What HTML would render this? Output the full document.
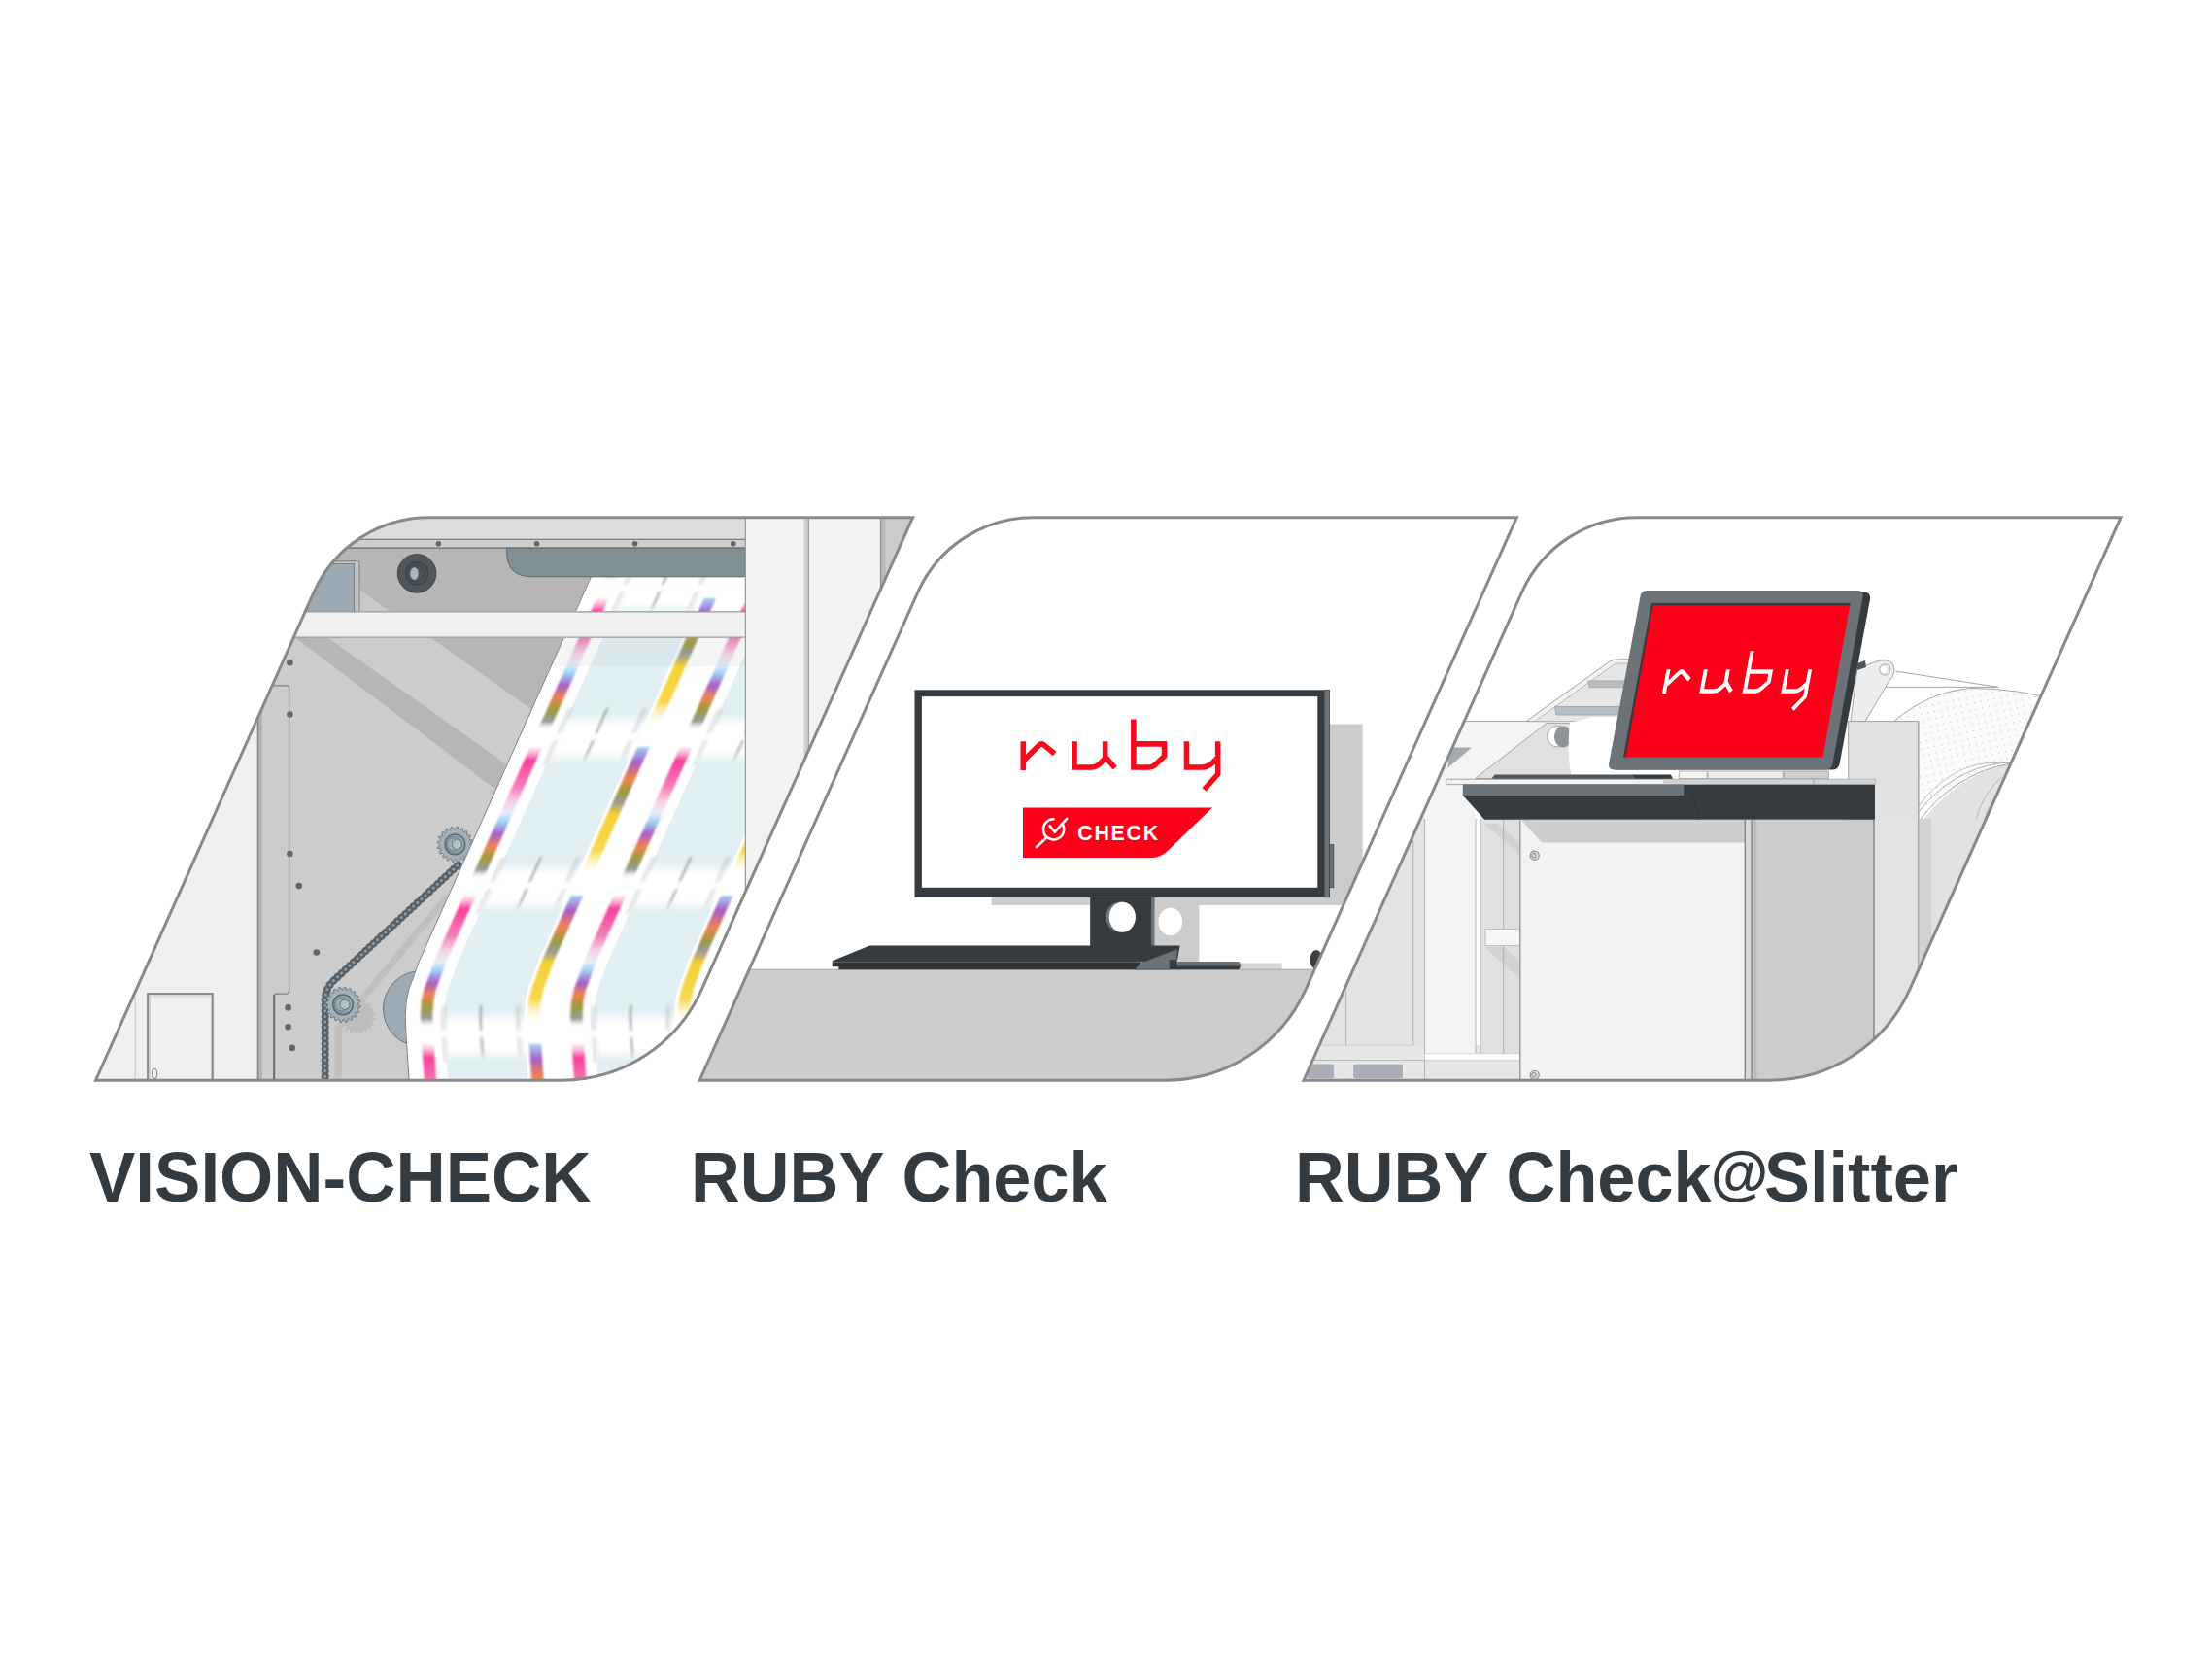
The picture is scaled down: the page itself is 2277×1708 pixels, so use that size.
<!DOCTYPE html>
<html><head><meta charset="utf-8">
<style>
html,body{margin:0;padding:0;background:#fff;width:2277px;height:1708px;overflow:hidden}
svg{display:block;position:absolute;left:0;top:0}
.lbl{position:absolute;font-family:"Liberation Sans",sans-serif;font-weight:bold;color:#343b40;font-size:72px;line-height:1;white-space:nowrap;transform-origin:0 0}
</style></head><body>
<svg width="2277" height="1708" viewBox="0 0 2277 1708">
<defs>
<clipPath id="c1"><path d="M323.14,609.65 A130.0,130.0 0 0 1 441.82,532.70 L939.60,532.70 L722.37,1018.68 A158.0,158.0 0 0 1 578.12,1112.20 L98.50,1112.20 Z"/></clipPath>
<clipPath id="c2"><path d="M944.84,609.65 A130.0,130.0 0 0 1 1063.52,532.70 L1561.30,532.70 L1344.07,1018.68 A158.0,158.0 0 0 1 1199.82,1112.20 L720.20,1112.20 Z"/></clipPath>
<clipPath id="c3"><path d="M1566.64,609.65 A130.0,130.0 0 0 1 1685.32,532.70 L2183.10,532.70 L1965.87,1018.68 A158.0,158.0 0 0 1 1821.62,1112.20 L1342.00,1112.20 Z"/></clipPath>

<linearGradient id="gBlue" x1="0" y1="0" x2="0" y2="1">
<stop offset="0" stop-color="#e3f0f3" stop-opacity="0"/>
<stop offset="0.1" stop-color="#e3f0f3"/>
<stop offset="0.9" stop-color="#e3f0f3"/>
<stop offset="1" stop-color="#e3f0f3" stop-opacity="0"/>
</linearGradient>
<linearGradient id="gStripP" x1="0" y1="0" x2="0" y2="1">
<stop offset="0" stop-color="#f6a0c8" stop-opacity="0.2"/>
<stop offset="0.1" stop-color="#f6409b"/>
<stop offset="0.3" stop-color="#f27db6"/>
<stop offset="0.42" stop-color="#f8d2e4"/>
<stop offset="0.5" stop-color="#e4eef8"/>
<stop offset="0.57" stop-color="#9fd0f6"/>
<stop offset="0.66" stop-color="#a85ec8"/>
<stop offset="0.75" stop-color="#f0824f"/>
<stop offset="0.84" stop-color="#9e9b3c"/>
<stop offset="0.93" stop-color="#9a9a9a"/>
<stop offset="1" stop-color="#ffffff" stop-opacity="0"/>
</linearGradient>
<linearGradient id="gStripY" x1="0" y1="0" x2="0" y2="1">
<stop offset="0" stop-color="#a4d3f6"/>
<stop offset="0.12" stop-color="#a85ec8"/>
<stop offset="0.25" stop-color="#f0824f"/>
<stop offset="0.36" stop-color="#9e9b3c"/>
<stop offset="0.44" stop-color="#9a9a9a"/>
<stop offset="0.53" stop-color="#f4d034"/>
<stop offset="0.82" stop-color="#f6d850"/>
<stop offset="1" stop-color="#fff8d0" stop-opacity="0"/>
</linearGradient>
<filter id="bl1" x="-50%" y="-10%" width="200%" height="120%"><feGaussianBlur stdDeviation="0.9"/></filter>
<filter id="bl2" x="-400%" y="-30%" width="900%" height="160%"><feGaussianBlur stdDeviation="1.5"/></filter>



<pattern id="dots" x="0" y="0" width="7" height="7" patternUnits="userSpaceOnUse" patternTransform="rotate(-12)">
<circle cx="3.5" cy="3.5" r="0.7" fill="#c8c8c8"/>
</pattern>
<linearGradient id="gDoor" x1="0" y1="0" x2="1" y2="1">
<stop offset="0" stop-color="#f0f0f0"/><stop offset="1" stop-color="#f3f3f3"/>
</linearGradient>

</defs>
<g clip-path="url(#c1)">
<rect x="90" y="520" width="860" height="600" fill="#cccccc"/>
<rect x="90" y="564" width="680" height="66" fill="#b6b6b6"/>
<path d="M369.5,606.5 L402,630 L369.5,630Z" fill="#c9c9c9"/>
<rect x="90" y="520" width="680" height="35.4" fill="#dcdcdc"/>
<rect x="90" y="555.4" width="680" height="8.6" fill="#cecece"/>
<line x1="90" y1="555.4" x2="767" y2="555.4" stroke="#7d7d7d" stroke-width="1.1"/>
<line x1="90" y1="564.2" x2="767" y2="564.2" stroke="#6d6d6d" stroke-width="1.3"/>
<circle cx="451.4" cy="559.8" r="2.8" fill="#5f676c"/>
<circle cx="552.6" cy="559.8" r="2.8" fill="#5f676c"/>
<circle cx="653.6" cy="559.8" r="2.8" fill="#5f676c"/>
<circle cx="754.8" cy="559.8" r="2.8" fill="#5f676c"/>
<rect x="300" y="577.8" width="70" height="52.2" fill="#c6c6c6" stroke="#7a7a7a" stroke-width="1" rx="1.5"/>
<rect x="300" y="580.5" width="64.6" height="49.5" fill="#9daab3" stroke="#707b82" stroke-width="0.9"/>
<circle cx="429.1" cy="590.4" r="19.8" fill="#50575c" stroke="#40464a" stroke-width="1"/>
<circle cx="429.1" cy="590.4" r="11.5" fill="#4b5257" stroke="#3a4044" stroke-width="1.2"/>
<circle cx="428.2" cy="590.4" r="8.5" fill="none" stroke="#3d4347" stroke-width="0.9"/>
<ellipse cx="426.5" cy="590.6" rx="4.3" ry="6.3" fill="#a8b6be"/>
<path d="M303.9,656.2 L336.8,656.2 L521,786.43 L511,813.39 Z" fill="#b6b6b6"/>
<path d="M443,656.2 L580.1,656.2 L547.8,730.8 Z" fill="#b6b6b6"/>
<rect x="90" y="705.8" width="175.5" height="420" fill="#f0f0f0"/>
<line x1="139.2" y1="1027" x2="139.2" y2="1113" stroke="#c4c4c4" stroke-width="1"/>
<path d="M152.2,1113 L152.2,1023.2 L218.7,1023.2 L218.7,1113" fill="#f0f0f0" stroke="#8a8a8a" stroke-width="2.2"/>
<path d="M154.5,1113 L154.5,1026 L216.5,1026" fill="none" stroke="#d0d0d0" stroke-width="1"/>
<ellipse cx="159.1" cy="1105.5" rx="2.6" ry="5" fill="none" stroke="#8a8a8a" stroke-width="1.2"/>
<path d="M265.5,1113 L265.5,705.8 L297.6,705.8 L297.6,1020 Q297.6,1023.2 294.4,1023.2 L284.9,1023.2 Q281.7,1023.2 281.7,1026.4 L281.7,1113Z" fill="#cccccc" stroke="#808080" stroke-width="1.2"/>
<rect x="265.5" y="706.4" width="4.5" height="407" fill="#b4b4b4"/>
<line x1="265.6" y1="705.8" x2="265.6" y2="1113" stroke="#858585" stroke-width="1.6"/>
<line x1="282.3" y1="1024" x2="282.3" y2="1113" stroke="#6e6e6e" stroke-width="1.8"/>
<circle cx="298.4" cy="682.3" r="3.3" fill="#5f676c"/>
<circle cx="298.4" cy="735.6" r="3.3" fill="#5f676c"/>
<circle cx="298.4" cy="879" r="3.3" fill="#5f676c"/>
<circle cx="307.7" cy="912.1" r="3.3" fill="#5f676c"/>
<circle cx="325.8" cy="980.5" r="3.3" fill="#5f676c"/>
<circle cx="296.6" cy="1037.4" r="3.3" fill="#5f676c"/>
<circle cx="296.6" cy="1057.2" r="3.3" fill="#5f676c"/>
<circle cx="300.8" cy="1078.9" r="3.3" fill="#5f676c"/>
<path d="M348.2,1120 L348.2,1058 L460,923.4" fill="none" stroke="#bfbfbf" stroke-width="7"/>
<path d="M384.1,1046.9 L386.64,1048.33 L386.48,1049.75 L383.67,1050.54 L383.34,1051.72 L385.31,1053.86 L384.72,1055.16 L381.8,1055.05 L381.12,1056.07 L382.34,1058.72 L381.37,1059.77 L378.63,1058.76 L377.67,1059.52 L378.01,1062.42 L376.76,1063.12 L374.47,1061.31 L373.32,1061.74 L372.75,1064.6 L371.35,1064.88 L369.72,1062.45 L368.5,1062.5 L367.07,1065.04 L365.65,1064.88 L364.86,1062.07 L363.68,1061.74 L361.54,1063.71 L360.24,1063.12 L360.35,1060.2 L359.33,1059.52 L356.68,1060.74 L355.63,1059.77 L356.64,1057.03 L355.88,1056.07 L352.98,1056.41 L352.28,1055.16 L354.09,1052.87 L353.66,1051.72 L350.8,1051.15 L350.52,1049.75 L352.95,1048.12 L352.9,1046.9 L350.36,1045.47 L350.52,1044.05 L353.33,1043.26 L353.66,1042.08 L351.69,1039.94 L352.28,1038.64 L355.2,1038.75 L355.88,1037.73 L354.66,1035.08 L355.63,1034.03 L358.37,1035.04 L359.33,1034.28 L358.99,1031.38 L360.24,1030.68 L362.53,1032.49 L363.68,1032.06 L364.25,1029.2 L365.65,1028.92 L367.28,1031.35 L368.5,1031.3 L369.93,1028.76 L371.35,1028.92 L372.14,1031.73 L373.32,1032.06 L375.46,1030.09 L376.76,1030.68 L376.65,1033.6 L377.67,1034.28 L380.32,1033.06 L381.37,1034.03 L380.36,1036.77 L381.12,1037.73 L384.02,1037.39 L384.72,1038.64 L382.91,1040.93 L383.34,1042.08 L386.2,1042.65 L386.48,1044.05 L384.05,1045.68Z" fill="#bdbdbd" stroke="none" stroke-width="0"/>
<circle cx="433.5" cy="1038.6" r="39" fill="#9eabb4" stroke="#68737a" stroke-width="1"/>
<path d="M334.7,1125 L334.7,1030 Q334.7,1018 343,1010 L474.5,887.8" fill="none" stroke="#56616a" stroke-width="5.5" stroke-linejoin="round"/>
<path d="M334.7,1125 L334.7,1030 Q334.7,1018 343,1010 L474.5,887.8" fill="none" stroke="#56616a" stroke-width="8" stroke-dasharray="0.01 5.6" stroke-linecap="round"/>
<path d="M334.7,1125 L334.7,1030 Q334.7,1018 343,1010 L474.5,887.8" fill="none" stroke="#8f9aa1" stroke-width="3" stroke-dasharray="0.01 5.6" stroke-linecap="round"/>
<path d="M368.6,1034.3 L371.14,1035.73 L370.98,1037.15 L368.17,1037.94 L367.84,1039.12 L369.81,1041.26 L369.22,1042.56 L366.3,1042.45 L365.62,1043.47 L366.84,1046.12 L365.87,1047.17 L363.13,1046.16 L362.17,1046.92 L362.51,1049.82 L361.26,1050.52 L358.97,1048.71 L357.82,1049.14 L357.25,1052 L355.85,1052.28 L354.22,1049.85 L353,1049.9 L351.57,1052.44 L350.15,1052.28 L349.36,1049.47 L348.18,1049.14 L346.04,1051.11 L344.74,1050.52 L344.85,1047.6 L343.83,1046.92 L341.18,1048.14 L340.13,1047.17 L341.14,1044.43 L340.38,1043.47 L337.48,1043.81 L336.78,1042.56 L338.59,1040.27 L338.16,1039.12 L335.3,1038.55 L335.02,1037.15 L337.45,1035.52 L337.4,1034.3 L334.86,1032.87 L335.02,1031.45 L337.83,1030.66 L338.16,1029.48 L336.19,1027.34 L336.78,1026.04 L339.7,1026.15 L340.38,1025.13 L339.16,1022.48 L340.13,1021.43 L342.87,1022.44 L343.83,1021.68 L343.49,1018.78 L344.74,1018.08 L347.03,1019.89 L348.18,1019.46 L348.75,1016.6 L350.15,1016.32 L351.78,1018.75 L353,1018.7 L354.43,1016.16 L355.85,1016.32 L356.64,1019.13 L357.82,1019.46 L359.96,1017.49 L361.26,1018.08 L361.15,1021 L362.17,1021.68 L364.82,1020.46 L365.87,1021.43 L364.86,1024.17 L365.62,1025.13 L368.52,1024.79 L369.22,1026.04 L367.41,1028.33 L367.84,1029.48 L370.7,1030.05 L370.98,1031.45 L368.55,1033.08Z" fill="#a3b0b8" stroke="#66727a" stroke-width="0.9"/><circle cx="353" cy="1034.3" r="10.3" fill="#9eabb3" stroke="#5d6870" stroke-width="1.6"/><circle cx="352.2" cy="1034.3" r="8" fill="none" stroke="#6d7880" stroke-width="0.8"/><circle cx="351.5" cy="1034.3" r="6.5" fill="none" stroke="#6d7880" stroke-width="0.8"/><path d="M359.76,1037.05 L355,1039.8 L350.24,1037.05 L350.24,1031.55 L355,1028.8 L359.76,1031.55Z" fill="#b5c2c9" stroke="#5d6870" stroke-width="0.8"/>
<path d="M484,869.3 L486.54,870.73 L486.38,872.15 L483.57,872.94 L483.24,874.12 L485.21,876.26 L484.62,877.56 L481.7,877.45 L481.02,878.47 L482.24,881.12 L481.27,882.17 L478.53,881.16 L477.57,881.92 L477.91,884.82 L476.66,885.52 L474.37,883.71 L473.22,884.14 L472.65,887 L471.25,887.28 L469.62,884.85 L468.4,884.9 L466.97,887.44 L465.55,887.28 L464.76,884.47 L463.58,884.14 L461.44,886.11 L460.14,885.52 L460.25,882.6 L459.23,881.92 L456.58,883.14 L455.53,882.17 L456.54,879.43 L455.78,878.47 L452.88,878.81 L452.18,877.56 L453.99,875.27 L453.56,874.12 L450.7,873.55 L450.42,872.15 L452.85,870.52 L452.8,869.3 L450.26,867.87 L450.42,866.45 L453.23,865.66 L453.56,864.48 L451.59,862.34 L452.18,861.04 L455.1,861.15 L455.78,860.13 L454.56,857.48 L455.53,856.43 L458.27,857.44 L459.23,856.68 L458.89,853.78 L460.14,853.08 L462.43,854.89 L463.58,854.46 L464.15,851.6 L465.55,851.32 L467.18,853.75 L468.4,853.7 L469.83,851.16 L471.25,851.32 L472.04,854.13 L473.22,854.46 L475.36,852.49 L476.66,853.08 L476.55,856 L477.57,856.68 L480.22,855.46 L481.27,856.43 L480.26,859.17 L481.02,860.13 L483.92,859.79 L484.62,861.04 L482.81,863.33 L483.24,864.48 L486.1,865.05 L486.38,866.45 L483.95,868.08Z" fill="#a3b0b8" stroke="#66727a" stroke-width="0.9"/><circle cx="468.4" cy="869.3" r="10.3" fill="#9eabb3" stroke="#5d6870" stroke-width="1.6"/><circle cx="467.6" cy="869.3" r="8" fill="none" stroke="#6d7880" stroke-width="0.8"/><circle cx="466.9" cy="869.3" r="6.5" fill="none" stroke="#6d7880" stroke-width="0.8"/><path d="M475.16,872.05 L470.4,874.8 L465.64,872.05 L465.64,866.55 L470.4,863.8 L475.16,866.55Z" fill="#b5c2c9" stroke="#5d6870" stroke-width="0.8"/>
<defs><g id="webc"><rect x="0" y="560" width="420" height="600" fill="#ffffff"/>
<rect x="40.5" y="314" width="82.5" height="128" fill="url(#gBlue)"/>
<rect x="194.8" y="314" width="82.5" height="128" fill="url(#gBlue)"/>
<rect x="349.1" y="314" width="82.5" height="128" fill="url(#gBlue)"/>
<rect x="16" y="310" width="12.5" height="136" fill="url(#gStripP)" filter="url(#bl1)"/>
<rect x="126.5" y="310" width="12.5" height="130" fill="url(#gStripY)" filter="url(#bl1)"/>
<rect x="38" y="423" width="1.0" height="26" fill="#4a4a4a" fill-opacity="0.45" filter="url(#bl2)"/>
<rect x="38" y="456" width="1.0" height="26" fill="#4a4a4a" fill-opacity="0.45" filter="url(#bl2)"/>
<rect x="41" y="423" width="0.8" height="26" fill="#4a4a4a" fill-opacity="0.3" filter="url(#bl2)"/>
<rect x="41" y="456" width="0.8" height="26" fill="#4a4a4a" fill-opacity="0.3" filter="url(#bl2)"/>
<rect x="77" y="423" width="1.4" height="26" fill="#4a4a4a" fill-opacity="0.8" filter="url(#bl2)"/>
<rect x="77" y="456" width="1.4" height="26" fill="#4a4a4a" fill-opacity="0.8" filter="url(#bl2)"/>
<rect x="115" y="423" width="1.0" height="26" fill="#4a4a4a" fill-opacity="0.45" filter="url(#bl2)"/>
<rect x="115" y="456" width="1.0" height="26" fill="#4a4a4a" fill-opacity="0.45" filter="url(#bl2)"/>
<rect x="118" y="423" width="0.8" height="26" fill="#4a4a4a" fill-opacity="0.3" filter="url(#bl2)"/>
<rect x="118" y="456" width="0.8" height="26" fill="#4a4a4a" fill-opacity="0.3" filter="url(#bl2)"/>
<rect x="170.3" y="310" width="12.5" height="136" fill="url(#gStripP)" filter="url(#bl1)"/>
<rect x="280.8" y="310" width="12.5" height="130" fill="url(#gStripY)" filter="url(#bl1)"/>
<rect x="192.3" y="423" width="1.0" height="26" fill="#4a4a4a" fill-opacity="0.45" filter="url(#bl2)"/>
<rect x="192.3" y="456" width="1.0" height="26" fill="#4a4a4a" fill-opacity="0.45" filter="url(#bl2)"/>
<rect x="195.3" y="423" width="0.8" height="26" fill="#4a4a4a" fill-opacity="0.3" filter="url(#bl2)"/>
<rect x="195.3" y="456" width="0.8" height="26" fill="#4a4a4a" fill-opacity="0.3" filter="url(#bl2)"/>
<rect x="231.3" y="423" width="1.4" height="26" fill="#4a4a4a" fill-opacity="0.8" filter="url(#bl2)"/>
<rect x="231.3" y="456" width="1.4" height="26" fill="#4a4a4a" fill-opacity="0.8" filter="url(#bl2)"/>
<rect x="269.3" y="423" width="1.0" height="26" fill="#4a4a4a" fill-opacity="0.45" filter="url(#bl2)"/>
<rect x="269.3" y="456" width="1.0" height="26" fill="#4a4a4a" fill-opacity="0.45" filter="url(#bl2)"/>
<rect x="272.3" y="423" width="0.8" height="26" fill="#4a4a4a" fill-opacity="0.3" filter="url(#bl2)"/>
<rect x="272.3" y="456" width="0.8" height="26" fill="#4a4a4a" fill-opacity="0.3" filter="url(#bl2)"/>
<rect x="324.6" y="310" width="12.5" height="136" fill="url(#gStripP)" filter="url(#bl1)"/>
<rect x="435.1" y="310" width="12.5" height="130" fill="url(#gStripY)" filter="url(#bl1)"/>
<rect x="346.6" y="423" width="1.0" height="26" fill="#4a4a4a" fill-opacity="0.45" filter="url(#bl2)"/>
<rect x="346.6" y="456" width="1.0" height="26" fill="#4a4a4a" fill-opacity="0.45" filter="url(#bl2)"/>
<rect x="349.6" y="423" width="0.8" height="26" fill="#4a4a4a" fill-opacity="0.3" filter="url(#bl2)"/>
<rect x="349.6" y="456" width="0.8" height="26" fill="#4a4a4a" fill-opacity="0.3" filter="url(#bl2)"/>
<rect x="385.6" y="423" width="1.4" height="26" fill="#4a4a4a" fill-opacity="0.8" filter="url(#bl2)"/>
<rect x="385.6" y="456" width="1.4" height="26" fill="#4a4a4a" fill-opacity="0.8" filter="url(#bl2)"/>
<rect x="423.6" y="423" width="1.0" height="26" fill="#4a4a4a" fill-opacity="0.45" filter="url(#bl2)"/>
<rect x="423.6" y="456" width="1.0" height="26" fill="#4a4a4a" fill-opacity="0.45" filter="url(#bl2)"/>
<rect x="426.6" y="423" width="0.8" height="26" fill="#4a4a4a" fill-opacity="0.3" filter="url(#bl2)"/>
<rect x="426.6" y="456" width="0.8" height="26" fill="#4a4a4a" fill-opacity="0.3" filter="url(#bl2)"/>
<rect x="40.5" y="467" width="82.5" height="128" fill="url(#gBlue)"/>
<rect x="194.8" y="467" width="82.5" height="128" fill="url(#gBlue)"/>
<rect x="349.1" y="467" width="82.5" height="128" fill="url(#gBlue)"/>
<rect x="16" y="463" width="12.5" height="136" fill="url(#gStripP)" filter="url(#bl1)"/>
<rect x="126.5" y="463" width="12.5" height="130" fill="url(#gStripY)" filter="url(#bl1)"/>
<rect x="38" y="576" width="1.0" height="26" fill="#4a4a4a" fill-opacity="0.45" filter="url(#bl2)"/>
<rect x="38" y="609" width="1.0" height="26" fill="#4a4a4a" fill-opacity="0.45" filter="url(#bl2)"/>
<rect x="41" y="576" width="0.8" height="26" fill="#4a4a4a" fill-opacity="0.3" filter="url(#bl2)"/>
<rect x="41" y="609" width="0.8" height="26" fill="#4a4a4a" fill-opacity="0.3" filter="url(#bl2)"/>
<rect x="77" y="576" width="1.4" height="26" fill="#4a4a4a" fill-opacity="0.8" filter="url(#bl2)"/>
<rect x="77" y="609" width="1.4" height="26" fill="#4a4a4a" fill-opacity="0.8" filter="url(#bl2)"/>
<rect x="115" y="576" width="1.0" height="26" fill="#4a4a4a" fill-opacity="0.45" filter="url(#bl2)"/>
<rect x="115" y="609" width="1.0" height="26" fill="#4a4a4a" fill-opacity="0.45" filter="url(#bl2)"/>
<rect x="118" y="576" width="0.8" height="26" fill="#4a4a4a" fill-opacity="0.3" filter="url(#bl2)"/>
<rect x="118" y="609" width="0.8" height="26" fill="#4a4a4a" fill-opacity="0.3" filter="url(#bl2)"/>
<rect x="170.3" y="463" width="12.5" height="136" fill="url(#gStripP)" filter="url(#bl1)"/>
<rect x="280.8" y="463" width="12.5" height="130" fill="url(#gStripY)" filter="url(#bl1)"/>
<rect x="192.3" y="576" width="1.0" height="26" fill="#4a4a4a" fill-opacity="0.45" filter="url(#bl2)"/>
<rect x="192.3" y="609" width="1.0" height="26" fill="#4a4a4a" fill-opacity="0.45" filter="url(#bl2)"/>
<rect x="195.3" y="576" width="0.8" height="26" fill="#4a4a4a" fill-opacity="0.3" filter="url(#bl2)"/>
<rect x="195.3" y="609" width="0.8" height="26" fill="#4a4a4a" fill-opacity="0.3" filter="url(#bl2)"/>
<rect x="231.3" y="576" width="1.4" height="26" fill="#4a4a4a" fill-opacity="0.8" filter="url(#bl2)"/>
<rect x="231.3" y="609" width="1.4" height="26" fill="#4a4a4a" fill-opacity="0.8" filter="url(#bl2)"/>
<rect x="269.3" y="576" width="1.0" height="26" fill="#4a4a4a" fill-opacity="0.45" filter="url(#bl2)"/>
<rect x="269.3" y="609" width="1.0" height="26" fill="#4a4a4a" fill-opacity="0.45" filter="url(#bl2)"/>
<rect x="272.3" y="576" width="0.8" height="26" fill="#4a4a4a" fill-opacity="0.3" filter="url(#bl2)"/>
<rect x="272.3" y="609" width="0.8" height="26" fill="#4a4a4a" fill-opacity="0.3" filter="url(#bl2)"/>
<rect x="324.6" y="463" width="12.5" height="136" fill="url(#gStripP)" filter="url(#bl1)"/>
<rect x="435.1" y="463" width="12.5" height="130" fill="url(#gStripY)" filter="url(#bl1)"/>
<rect x="346.6" y="576" width="1.0" height="26" fill="#4a4a4a" fill-opacity="0.45" filter="url(#bl2)"/>
<rect x="346.6" y="609" width="1.0" height="26" fill="#4a4a4a" fill-opacity="0.45" filter="url(#bl2)"/>
<rect x="349.6" y="576" width="0.8" height="26" fill="#4a4a4a" fill-opacity="0.3" filter="url(#bl2)"/>
<rect x="349.6" y="609" width="0.8" height="26" fill="#4a4a4a" fill-opacity="0.3" filter="url(#bl2)"/>
<rect x="385.6" y="576" width="1.4" height="26" fill="#4a4a4a" fill-opacity="0.8" filter="url(#bl2)"/>
<rect x="385.6" y="609" width="1.4" height="26" fill="#4a4a4a" fill-opacity="0.8" filter="url(#bl2)"/>
<rect x="423.6" y="576" width="1.0" height="26" fill="#4a4a4a" fill-opacity="0.45" filter="url(#bl2)"/>
<rect x="423.6" y="609" width="1.0" height="26" fill="#4a4a4a" fill-opacity="0.45" filter="url(#bl2)"/>
<rect x="426.6" y="576" width="0.8" height="26" fill="#4a4a4a" fill-opacity="0.3" filter="url(#bl2)"/>
<rect x="426.6" y="609" width="0.8" height="26" fill="#4a4a4a" fill-opacity="0.3" filter="url(#bl2)"/>
<rect x="40.5" y="620" width="82.5" height="128" fill="url(#gBlue)"/>
<rect x="194.8" y="620" width="82.5" height="128" fill="url(#gBlue)"/>
<rect x="349.1" y="620" width="82.5" height="128" fill="url(#gBlue)"/>
<rect x="16" y="616" width="12.5" height="136" fill="url(#gStripP)" filter="url(#bl1)"/>
<rect x="126.5" y="616" width="12.5" height="130" fill="url(#gStripY)" filter="url(#bl1)"/>
<rect x="38" y="729" width="1.0" height="26" fill="#4a4a4a" fill-opacity="0.45" filter="url(#bl2)"/>
<rect x="38" y="762" width="1.0" height="26" fill="#4a4a4a" fill-opacity="0.45" filter="url(#bl2)"/>
<rect x="41" y="729" width="0.8" height="26" fill="#4a4a4a" fill-opacity="0.3" filter="url(#bl2)"/>
<rect x="41" y="762" width="0.8" height="26" fill="#4a4a4a" fill-opacity="0.3" filter="url(#bl2)"/>
<rect x="77" y="729" width="1.4" height="26" fill="#4a4a4a" fill-opacity="0.8" filter="url(#bl2)"/>
<rect x="77" y="762" width="1.4" height="26" fill="#4a4a4a" fill-opacity="0.8" filter="url(#bl2)"/>
<rect x="115" y="729" width="1.0" height="26" fill="#4a4a4a" fill-opacity="0.45" filter="url(#bl2)"/>
<rect x="115" y="762" width="1.0" height="26" fill="#4a4a4a" fill-opacity="0.45" filter="url(#bl2)"/>
<rect x="118" y="729" width="0.8" height="26" fill="#4a4a4a" fill-opacity="0.3" filter="url(#bl2)"/>
<rect x="118" y="762" width="0.8" height="26" fill="#4a4a4a" fill-opacity="0.3" filter="url(#bl2)"/>
<rect x="170.3" y="616" width="12.5" height="136" fill="url(#gStripP)" filter="url(#bl1)"/>
<rect x="280.8" y="616" width="12.5" height="130" fill="url(#gStripY)" filter="url(#bl1)"/>
<rect x="192.3" y="729" width="1.0" height="26" fill="#4a4a4a" fill-opacity="0.45" filter="url(#bl2)"/>
<rect x="192.3" y="762" width="1.0" height="26" fill="#4a4a4a" fill-opacity="0.45" filter="url(#bl2)"/>
<rect x="195.3" y="729" width="0.8" height="26" fill="#4a4a4a" fill-opacity="0.3" filter="url(#bl2)"/>
<rect x="195.3" y="762" width="0.8" height="26" fill="#4a4a4a" fill-opacity="0.3" filter="url(#bl2)"/>
<rect x="231.3" y="729" width="1.4" height="26" fill="#4a4a4a" fill-opacity="0.8" filter="url(#bl2)"/>
<rect x="231.3" y="762" width="1.4" height="26" fill="#4a4a4a" fill-opacity="0.8" filter="url(#bl2)"/>
<rect x="269.3" y="729" width="1.0" height="26" fill="#4a4a4a" fill-opacity="0.45" filter="url(#bl2)"/>
<rect x="269.3" y="762" width="1.0" height="26" fill="#4a4a4a" fill-opacity="0.45" filter="url(#bl2)"/>
<rect x="272.3" y="729" width="0.8" height="26" fill="#4a4a4a" fill-opacity="0.3" filter="url(#bl2)"/>
<rect x="272.3" y="762" width="0.8" height="26" fill="#4a4a4a" fill-opacity="0.3" filter="url(#bl2)"/>
<rect x="324.6" y="616" width="12.5" height="136" fill="url(#gStripP)" filter="url(#bl1)"/>
<rect x="435.1" y="616" width="12.5" height="130" fill="url(#gStripY)" filter="url(#bl1)"/>
<rect x="346.6" y="729" width="1.0" height="26" fill="#4a4a4a" fill-opacity="0.45" filter="url(#bl2)"/>
<rect x="346.6" y="762" width="1.0" height="26" fill="#4a4a4a" fill-opacity="0.45" filter="url(#bl2)"/>
<rect x="349.6" y="729" width="0.8" height="26" fill="#4a4a4a" fill-opacity="0.3" filter="url(#bl2)"/>
<rect x="349.6" y="762" width="0.8" height="26" fill="#4a4a4a" fill-opacity="0.3" filter="url(#bl2)"/>
<rect x="385.6" y="729" width="1.4" height="26" fill="#4a4a4a" fill-opacity="0.8" filter="url(#bl2)"/>
<rect x="385.6" y="762" width="1.4" height="26" fill="#4a4a4a" fill-opacity="0.8" filter="url(#bl2)"/>
<rect x="423.6" y="729" width="1.0" height="26" fill="#4a4a4a" fill-opacity="0.45" filter="url(#bl2)"/>
<rect x="423.6" y="762" width="1.0" height="26" fill="#4a4a4a" fill-opacity="0.45" filter="url(#bl2)"/>
<rect x="426.6" y="729" width="0.8" height="26" fill="#4a4a4a" fill-opacity="0.3" filter="url(#bl2)"/>
<rect x="426.6" y="762" width="0.8" height="26" fill="#4a4a4a" fill-opacity="0.3" filter="url(#bl2)"/>
<rect x="40.5" y="773" width="82.5" height="128" fill="url(#gBlue)"/>
<rect x="194.8" y="773" width="82.5" height="128" fill="url(#gBlue)"/>
<rect x="349.1" y="773" width="82.5" height="128" fill="url(#gBlue)"/>
<rect x="16" y="769" width="12.5" height="136" fill="url(#gStripP)" filter="url(#bl1)"/>
<rect x="126.5" y="769" width="12.5" height="130" fill="url(#gStripY)" filter="url(#bl1)"/>
<rect x="38" y="882" width="1.0" height="26" fill="#4a4a4a" fill-opacity="0.45" filter="url(#bl2)"/>
<rect x="38" y="915" width="1.0" height="26" fill="#4a4a4a" fill-opacity="0.45" filter="url(#bl2)"/>
<rect x="41" y="882" width="0.8" height="26" fill="#4a4a4a" fill-opacity="0.3" filter="url(#bl2)"/>
<rect x="41" y="915" width="0.8" height="26" fill="#4a4a4a" fill-opacity="0.3" filter="url(#bl2)"/>
<rect x="77" y="882" width="1.4" height="26" fill="#4a4a4a" fill-opacity="0.8" filter="url(#bl2)"/>
<rect x="77" y="915" width="1.4" height="26" fill="#4a4a4a" fill-opacity="0.8" filter="url(#bl2)"/>
<rect x="115" y="882" width="1.0" height="26" fill="#4a4a4a" fill-opacity="0.45" filter="url(#bl2)"/>
<rect x="115" y="915" width="1.0" height="26" fill="#4a4a4a" fill-opacity="0.45" filter="url(#bl2)"/>
<rect x="118" y="882" width="0.8" height="26" fill="#4a4a4a" fill-opacity="0.3" filter="url(#bl2)"/>
<rect x="118" y="915" width="0.8" height="26" fill="#4a4a4a" fill-opacity="0.3" filter="url(#bl2)"/>
<rect x="170.3" y="769" width="12.5" height="136" fill="url(#gStripP)" filter="url(#bl1)"/>
<rect x="280.8" y="769" width="12.5" height="130" fill="url(#gStripY)" filter="url(#bl1)"/>
<rect x="192.3" y="882" width="1.0" height="26" fill="#4a4a4a" fill-opacity="0.45" filter="url(#bl2)"/>
<rect x="192.3" y="915" width="1.0" height="26" fill="#4a4a4a" fill-opacity="0.45" filter="url(#bl2)"/>
<rect x="195.3" y="882" width="0.8" height="26" fill="#4a4a4a" fill-opacity="0.3" filter="url(#bl2)"/>
<rect x="195.3" y="915" width="0.8" height="26" fill="#4a4a4a" fill-opacity="0.3" filter="url(#bl2)"/>
<rect x="231.3" y="882" width="1.4" height="26" fill="#4a4a4a" fill-opacity="0.8" filter="url(#bl2)"/>
<rect x="231.3" y="915" width="1.4" height="26" fill="#4a4a4a" fill-opacity="0.8" filter="url(#bl2)"/>
<rect x="269.3" y="882" width="1.0" height="26" fill="#4a4a4a" fill-opacity="0.45" filter="url(#bl2)"/>
<rect x="269.3" y="915" width="1.0" height="26" fill="#4a4a4a" fill-opacity="0.45" filter="url(#bl2)"/>
<rect x="272.3" y="882" width="0.8" height="26" fill="#4a4a4a" fill-opacity="0.3" filter="url(#bl2)"/>
<rect x="272.3" y="915" width="0.8" height="26" fill="#4a4a4a" fill-opacity="0.3" filter="url(#bl2)"/>
<rect x="324.6" y="769" width="12.5" height="136" fill="url(#gStripP)" filter="url(#bl1)"/>
<rect x="435.1" y="769" width="12.5" height="130" fill="url(#gStripY)" filter="url(#bl1)"/>
<rect x="346.6" y="882" width="1.0" height="26" fill="#4a4a4a" fill-opacity="0.45" filter="url(#bl2)"/>
<rect x="346.6" y="915" width="1.0" height="26" fill="#4a4a4a" fill-opacity="0.45" filter="url(#bl2)"/>
<rect x="349.6" y="882" width="0.8" height="26" fill="#4a4a4a" fill-opacity="0.3" filter="url(#bl2)"/>
<rect x="349.6" y="915" width="0.8" height="26" fill="#4a4a4a" fill-opacity="0.3" filter="url(#bl2)"/>
<rect x="385.6" y="882" width="1.4" height="26" fill="#4a4a4a" fill-opacity="0.8" filter="url(#bl2)"/>
<rect x="385.6" y="915" width="1.4" height="26" fill="#4a4a4a" fill-opacity="0.8" filter="url(#bl2)"/>
<rect x="423.6" y="882" width="1.0" height="26" fill="#4a4a4a" fill-opacity="0.45" filter="url(#bl2)"/>
<rect x="423.6" y="915" width="1.0" height="26" fill="#4a4a4a" fill-opacity="0.45" filter="url(#bl2)"/>
<rect x="426.6" y="882" width="0.8" height="26" fill="#4a4a4a" fill-opacity="0.3" filter="url(#bl2)"/>
<rect x="426.6" y="915" width="0.8" height="26" fill="#4a4a4a" fill-opacity="0.3" filter="url(#bl2)"/>
<rect x="40.5" y="926" width="82.5" height="128" fill="url(#gBlue)"/>
<rect x="194.8" y="926" width="82.5" height="128" fill="url(#gBlue)"/>
<rect x="349.1" y="926" width="82.5" height="128" fill="url(#gBlue)"/>
<rect x="16" y="922" width="12.5" height="136" fill="url(#gStripP)" filter="url(#bl1)"/>
<rect x="126.5" y="922" width="12.5" height="130" fill="url(#gStripY)" filter="url(#bl1)"/>
<rect x="38" y="1035" width="1.0" height="26" fill="#4a4a4a" fill-opacity="0.45" filter="url(#bl2)"/>
<rect x="38" y="1068" width="1.0" height="26" fill="#4a4a4a" fill-opacity="0.45" filter="url(#bl2)"/>
<rect x="41" y="1035" width="0.8" height="26" fill="#4a4a4a" fill-opacity="0.3" filter="url(#bl2)"/>
<rect x="41" y="1068" width="0.8" height="26" fill="#4a4a4a" fill-opacity="0.3" filter="url(#bl2)"/>
<rect x="77" y="1035" width="1.4" height="26" fill="#4a4a4a" fill-opacity="0.8" filter="url(#bl2)"/>
<rect x="77" y="1068" width="1.4" height="26" fill="#4a4a4a" fill-opacity="0.8" filter="url(#bl2)"/>
<rect x="115" y="1035" width="1.0" height="26" fill="#4a4a4a" fill-opacity="0.45" filter="url(#bl2)"/>
<rect x="115" y="1068" width="1.0" height="26" fill="#4a4a4a" fill-opacity="0.45" filter="url(#bl2)"/>
<rect x="118" y="1035" width="0.8" height="26" fill="#4a4a4a" fill-opacity="0.3" filter="url(#bl2)"/>
<rect x="118" y="1068" width="0.8" height="26" fill="#4a4a4a" fill-opacity="0.3" filter="url(#bl2)"/>
<rect x="170.3" y="922" width="12.5" height="136" fill="url(#gStripP)" filter="url(#bl1)"/>
<rect x="280.8" y="922" width="12.5" height="130" fill="url(#gStripY)" filter="url(#bl1)"/>
<rect x="192.3" y="1035" width="1.0" height="26" fill="#4a4a4a" fill-opacity="0.45" filter="url(#bl2)"/>
<rect x="192.3" y="1068" width="1.0" height="26" fill="#4a4a4a" fill-opacity="0.45" filter="url(#bl2)"/>
<rect x="195.3" y="1035" width="0.8" height="26" fill="#4a4a4a" fill-opacity="0.3" filter="url(#bl2)"/>
<rect x="195.3" y="1068" width="0.8" height="26" fill="#4a4a4a" fill-opacity="0.3" filter="url(#bl2)"/>
<rect x="231.3" y="1035" width="1.4" height="26" fill="#4a4a4a" fill-opacity="0.8" filter="url(#bl2)"/>
<rect x="231.3" y="1068" width="1.4" height="26" fill="#4a4a4a" fill-opacity="0.8" filter="url(#bl2)"/>
<rect x="269.3" y="1035" width="1.0" height="26" fill="#4a4a4a" fill-opacity="0.45" filter="url(#bl2)"/>
<rect x="269.3" y="1068" width="1.0" height="26" fill="#4a4a4a" fill-opacity="0.45" filter="url(#bl2)"/>
<rect x="272.3" y="1035" width="0.8" height="26" fill="#4a4a4a" fill-opacity="0.3" filter="url(#bl2)"/>
<rect x="272.3" y="1068" width="0.8" height="26" fill="#4a4a4a" fill-opacity="0.3" filter="url(#bl2)"/>
<rect x="324.6" y="922" width="12.5" height="136" fill="url(#gStripP)" filter="url(#bl1)"/>
<rect x="435.1" y="922" width="12.5" height="130" fill="url(#gStripY)" filter="url(#bl1)"/>
<rect x="346.6" y="1035" width="1.0" height="26" fill="#4a4a4a" fill-opacity="0.45" filter="url(#bl2)"/>
<rect x="346.6" y="1068" width="1.0" height="26" fill="#4a4a4a" fill-opacity="0.45" filter="url(#bl2)"/>
<rect x="349.6" y="1035" width="0.8" height="26" fill="#4a4a4a" fill-opacity="0.3" filter="url(#bl2)"/>
<rect x="349.6" y="1068" width="0.8" height="26" fill="#4a4a4a" fill-opacity="0.3" filter="url(#bl2)"/>
<rect x="385.6" y="1035" width="1.4" height="26" fill="#4a4a4a" fill-opacity="0.8" filter="url(#bl2)"/>
<rect x="385.6" y="1068" width="1.4" height="26" fill="#4a4a4a" fill-opacity="0.8" filter="url(#bl2)"/>
<rect x="423.6" y="1035" width="1.0" height="26" fill="#4a4a4a" fill-opacity="0.45" filter="url(#bl2)"/>
<rect x="423.6" y="1068" width="1.0" height="26" fill="#4a4a4a" fill-opacity="0.45" filter="url(#bl2)"/>
<rect x="426.6" y="1035" width="0.8" height="26" fill="#4a4a4a" fill-opacity="0.3" filter="url(#bl2)"/>
<rect x="426.6" y="1068" width="0.8" height="26" fill="#4a4a4a" fill-opacity="0.3" filter="url(#bl2)"/>
<rect x="40.5" y="1079" width="82.5" height="128" fill="url(#gBlue)"/>
<rect x="194.8" y="1079" width="82.5" height="128" fill="url(#gBlue)"/>
<rect x="349.1" y="1079" width="82.5" height="128" fill="url(#gBlue)"/>
<rect x="16" y="1075" width="12.5" height="136" fill="url(#gStripP)" filter="url(#bl1)"/>
<rect x="126.5" y="1075" width="12.5" height="130" fill="url(#gStripY)" filter="url(#bl1)"/>
<rect x="38" y="1188" width="1.0" height="26" fill="#4a4a4a" fill-opacity="0.45" filter="url(#bl2)"/>
<rect x="38" y="1221" width="1.0" height="26" fill="#4a4a4a" fill-opacity="0.45" filter="url(#bl2)"/>
<rect x="41" y="1188" width="0.8" height="26" fill="#4a4a4a" fill-opacity="0.3" filter="url(#bl2)"/>
<rect x="41" y="1221" width="0.8" height="26" fill="#4a4a4a" fill-opacity="0.3" filter="url(#bl2)"/>
<rect x="77" y="1188" width="1.4" height="26" fill="#4a4a4a" fill-opacity="0.8" filter="url(#bl2)"/>
<rect x="77" y="1221" width="1.4" height="26" fill="#4a4a4a" fill-opacity="0.8" filter="url(#bl2)"/>
<rect x="115" y="1188" width="1.0" height="26" fill="#4a4a4a" fill-opacity="0.45" filter="url(#bl2)"/>
<rect x="115" y="1221" width="1.0" height="26" fill="#4a4a4a" fill-opacity="0.45" filter="url(#bl2)"/>
<rect x="118" y="1188" width="0.8" height="26" fill="#4a4a4a" fill-opacity="0.3" filter="url(#bl2)"/>
<rect x="118" y="1221" width="0.8" height="26" fill="#4a4a4a" fill-opacity="0.3" filter="url(#bl2)"/>
<rect x="170.3" y="1075" width="12.5" height="136" fill="url(#gStripP)" filter="url(#bl1)"/>
<rect x="280.8" y="1075" width="12.5" height="130" fill="url(#gStripY)" filter="url(#bl1)"/>
<rect x="192.3" y="1188" width="1.0" height="26" fill="#4a4a4a" fill-opacity="0.45" filter="url(#bl2)"/>
<rect x="192.3" y="1221" width="1.0" height="26" fill="#4a4a4a" fill-opacity="0.45" filter="url(#bl2)"/>
<rect x="195.3" y="1188" width="0.8" height="26" fill="#4a4a4a" fill-opacity="0.3" filter="url(#bl2)"/>
<rect x="195.3" y="1221" width="0.8" height="26" fill="#4a4a4a" fill-opacity="0.3" filter="url(#bl2)"/>
<rect x="231.3" y="1188" width="1.4" height="26" fill="#4a4a4a" fill-opacity="0.8" filter="url(#bl2)"/>
<rect x="231.3" y="1221" width="1.4" height="26" fill="#4a4a4a" fill-opacity="0.8" filter="url(#bl2)"/>
<rect x="269.3" y="1188" width="1.0" height="26" fill="#4a4a4a" fill-opacity="0.45" filter="url(#bl2)"/>
<rect x="269.3" y="1221" width="1.0" height="26" fill="#4a4a4a" fill-opacity="0.45" filter="url(#bl2)"/>
<rect x="272.3" y="1188" width="0.8" height="26" fill="#4a4a4a" fill-opacity="0.3" filter="url(#bl2)"/>
<rect x="272.3" y="1221" width="0.8" height="26" fill="#4a4a4a" fill-opacity="0.3" filter="url(#bl2)"/>
<rect x="324.6" y="1075" width="12.5" height="136" fill="url(#gStripP)" filter="url(#bl1)"/>
<rect x="435.1" y="1075" width="12.5" height="130" fill="url(#gStripY)" filter="url(#bl1)"/>
<rect x="346.6" y="1188" width="1.0" height="26" fill="#4a4a4a" fill-opacity="0.45" filter="url(#bl2)"/>
<rect x="346.6" y="1221" width="1.0" height="26" fill="#4a4a4a" fill-opacity="0.45" filter="url(#bl2)"/>
<rect x="349.6" y="1188" width="0.8" height="26" fill="#4a4a4a" fill-opacity="0.3" filter="url(#bl2)"/>
<rect x="349.6" y="1221" width="0.8" height="26" fill="#4a4a4a" fill-opacity="0.3" filter="url(#bl2)"/>
<rect x="385.6" y="1188" width="1.4" height="26" fill="#4a4a4a" fill-opacity="0.8" filter="url(#bl2)"/>
<rect x="385.6" y="1221" width="1.4" height="26" fill="#4a4a4a" fill-opacity="0.8" filter="url(#bl2)"/>
<rect x="423.6" y="1188" width="1.0" height="26" fill="#4a4a4a" fill-opacity="0.45" filter="url(#bl2)"/>
<rect x="423.6" y="1221" width="1.0" height="26" fill="#4a4a4a" fill-opacity="0.45" filter="url(#bl2)"/>
<rect x="426.6" y="1188" width="0.8" height="26" fill="#4a4a4a" fill-opacity="0.3" filter="url(#bl2)"/>
<rect x="426.6" y="1221" width="0.8" height="26" fill="#4a4a4a" fill-opacity="0.3" filter="url(#bl2)"/>
<rect x="40.5" y="1232" width="82.5" height="128" fill="url(#gBlue)"/>
<rect x="194.8" y="1232" width="82.5" height="128" fill="url(#gBlue)"/>
<rect x="349.1" y="1232" width="82.5" height="128" fill="url(#gBlue)"/>
<rect x="16" y="1228" width="12.5" height="136" fill="url(#gStripP)" filter="url(#bl1)"/>
<rect x="126.5" y="1228" width="12.5" height="130" fill="url(#gStripY)" filter="url(#bl1)"/>
<rect x="38" y="1341" width="1.0" height="26" fill="#4a4a4a" fill-opacity="0.45" filter="url(#bl2)"/>
<rect x="38" y="1374" width="1.0" height="26" fill="#4a4a4a" fill-opacity="0.45" filter="url(#bl2)"/>
<rect x="41" y="1341" width="0.8" height="26" fill="#4a4a4a" fill-opacity="0.3" filter="url(#bl2)"/>
<rect x="41" y="1374" width="0.8" height="26" fill="#4a4a4a" fill-opacity="0.3" filter="url(#bl2)"/>
<rect x="77" y="1341" width="1.4" height="26" fill="#4a4a4a" fill-opacity="0.8" filter="url(#bl2)"/>
<rect x="77" y="1374" width="1.4" height="26" fill="#4a4a4a" fill-opacity="0.8" filter="url(#bl2)"/>
<rect x="115" y="1341" width="1.0" height="26" fill="#4a4a4a" fill-opacity="0.45" filter="url(#bl2)"/>
<rect x="115" y="1374" width="1.0" height="26" fill="#4a4a4a" fill-opacity="0.45" filter="url(#bl2)"/>
<rect x="118" y="1341" width="0.8" height="26" fill="#4a4a4a" fill-opacity="0.3" filter="url(#bl2)"/>
<rect x="118" y="1374" width="0.8" height="26" fill="#4a4a4a" fill-opacity="0.3" filter="url(#bl2)"/>
<rect x="170.3" y="1228" width="12.5" height="136" fill="url(#gStripP)" filter="url(#bl1)"/>
<rect x="280.8" y="1228" width="12.5" height="130" fill="url(#gStripY)" filter="url(#bl1)"/>
<rect x="192.3" y="1341" width="1.0" height="26" fill="#4a4a4a" fill-opacity="0.45" filter="url(#bl2)"/>
<rect x="192.3" y="1374" width="1.0" height="26" fill="#4a4a4a" fill-opacity="0.45" filter="url(#bl2)"/>
<rect x="195.3" y="1341" width="0.8" height="26" fill="#4a4a4a" fill-opacity="0.3" filter="url(#bl2)"/>
<rect x="195.3" y="1374" width="0.8" height="26" fill="#4a4a4a" fill-opacity="0.3" filter="url(#bl2)"/>
<rect x="231.3" y="1341" width="1.4" height="26" fill="#4a4a4a" fill-opacity="0.8" filter="url(#bl2)"/>
<rect x="231.3" y="1374" width="1.4" height="26" fill="#4a4a4a" fill-opacity="0.8" filter="url(#bl2)"/>
<rect x="269.3" y="1341" width="1.0" height="26" fill="#4a4a4a" fill-opacity="0.45" filter="url(#bl2)"/>
<rect x="269.3" y="1374" width="1.0" height="26" fill="#4a4a4a" fill-opacity="0.45" filter="url(#bl2)"/>
<rect x="272.3" y="1341" width="0.8" height="26" fill="#4a4a4a" fill-opacity="0.3" filter="url(#bl2)"/>
<rect x="272.3" y="1374" width="0.8" height="26" fill="#4a4a4a" fill-opacity="0.3" filter="url(#bl2)"/>
<rect x="324.6" y="1228" width="12.5" height="136" fill="url(#gStripP)" filter="url(#bl1)"/>
<rect x="435.1" y="1228" width="12.5" height="130" fill="url(#gStripY)" filter="url(#bl1)"/>
<rect x="346.6" y="1341" width="1.0" height="26" fill="#4a4a4a" fill-opacity="0.45" filter="url(#bl2)"/>
<rect x="346.6" y="1374" width="1.0" height="26" fill="#4a4a4a" fill-opacity="0.45" filter="url(#bl2)"/>
<rect x="349.6" y="1341" width="0.8" height="26" fill="#4a4a4a" fill-opacity="0.3" filter="url(#bl2)"/>
<rect x="349.6" y="1374" width="0.8" height="26" fill="#4a4a4a" fill-opacity="0.3" filter="url(#bl2)"/>
<rect x="385.6" y="1341" width="1.4" height="26" fill="#4a4a4a" fill-opacity="0.8" filter="url(#bl2)"/>
<rect x="385.6" y="1374" width="1.4" height="26" fill="#4a4a4a" fill-opacity="0.8" filter="url(#bl2)"/>
<rect x="423.6" y="1341" width="1.0" height="26" fill="#4a4a4a" fill-opacity="0.45" filter="url(#bl2)"/>
<rect x="423.6" y="1374" width="1.0" height="26" fill="#4a4a4a" fill-opacity="0.45" filter="url(#bl2)"/>
<rect x="426.6" y="1341" width="0.8" height="26" fill="#4a4a4a" fill-opacity="0.3" filter="url(#bl2)"/>
<rect x="426.6" y="1374" width="0.8" height="26" fill="#4a4a4a" fill-opacity="0.3" filter="url(#bl2)"/>
<line x1="0.4" y1="560" x2="0.4" y2="1160" stroke="#777" stroke-width="1"/></g></defs>
<clipPath id="ws0"><rect x="300" y="594" width="700" height="397"/></clipPath>
<g clip-path="url(#ws0)"><use href="#webc" transform="matrix(1,0,-0.44700,1,873.4214,0)"/></g>
<clipPath id="ws1"><rect x="300" y="989" width="700" height="17"/></clipPath>
<g clip-path="url(#ws1)"><use href="#webc" transform="matrix(1,0,-0.35943,1,786.7238,0)"/></g>
<clipPath id="ws2"><rect x="300" y="1004" width="700" height="15"/></clipPath>
<g clip-path="url(#ws2)"><use href="#webc" transform="matrix(1,0,-0.37692,1,804.3077,0)"/></g>
<clipPath id="ws3"><rect x="300" y="1017" width="700" height="14"/></clipPath>
<g clip-path="url(#ws3)"><use href="#webc" transform="matrix(1,0,-0.22500,1,649.6500,0)"/></g>
<clipPath id="ws4"><rect x="300" y="1029" width="700" height="17"/></clipPath>
<g clip-path="url(#ws4)"><use href="#webc" transform="matrix(1,0,-0.07333,1,493.4333,0)"/></g>
<clipPath id="ws5"><rect x="300" y="1044" width="700" height="19"/></clipPath>
<g clip-path="url(#ws5)"><use href="#webc" transform="matrix(1,0,0.03529,1,379.9176,0)"/></g>
<clipPath id="ws6"><rect x="300" y="1061" width="700" height="60"/></clipPath>
<g clip-path="url(#ws6)"><use href="#webc" transform="matrix(1,0,0.06552,1,347.8207,0)"/></g>
<path d="M580.1,656.2 L780,656.2 L780,686 L566.78,686Z" fill="#8a9aa0" fill-opacity="0.09"/>
<rect x="90" y="629.8" width="677" height="26.4" fill="#f0f0f0"/>
<line x1="90" y1="629.8" x2="767" y2="629.8" stroke="#9a9a9a" stroke-width="1.2"/>
<line x1="90" y1="656.2" x2="767" y2="656.2" stroke="#9a9a9a" stroke-width="1.2"/>
<path d="M521.5,564.2 L767,564.2 L767,593.8 L547.5,593.8 Q521.5,593.8 521.5,567.8 Z" fill="#818e94" stroke="#5f6a70" stroke-width="1"/>
<rect x="767" y="520" width="190" height="420" fill="#f2f2f2"/>
<line x1="767.4" y1="520" x2="767.4" y2="940" stroke="#9a9a9a" stroke-width="1.2"/>
<rect x="827.5" y="520" width="4.8" height="280" fill="#cfcfcf"/>
<line x1="832.3" y1="520" x2="832.3" y2="800" stroke="#909090" stroke-width="1.1"/>
<rect x="906.5" y="520" width="50" height="100" fill="#cbcbcb"/>
<rect x="906.5" y="520" width="5" height="100" fill="#b9b9b9"/>
<line x1="906.5" y1="520" x2="906.5" y2="620" stroke="#8f8f8f" stroke-width="1.1"/>
</g>
<g clip-path="url(#c2)">
<rect x="1020.6" y="745.4" width="382" height="186.6" fill="#cccccc"/>
<rect x="1188.6" y="924" width="45.8" height="66.3" fill="#cccccc"/>
<ellipse cx="1204.8" cy="948.9" rx="12.3" ry="14.2" fill="#ffffff"/>
<rect x="1276" y="991.5" width="43.6" height="6.5" fill="#d6d6d6"/>
<ellipse cx="1355" cy="988" rx="6.5" ry="10" fill="#3a3f44"/>
<rect x="700" y="997.8" width="870" height="130" fill="#cccccc"/>
<line x1="700" y1="998.2" x2="1570" y2="998.2" stroke="#a9a9a9" stroke-width="1.1"/>
<rect x="941.5" y="710.3" width="421.8" height="213.5" fill="#363b3f"/>
<rect x="1363.3" y="710.3" width="5.2" height="213.5" fill="#6b7379" stroke="#3e4448" stroke-width="0.8"/>
<rect x="1368.5" y="869.7" width="4.3" height="44" fill="#6b7379" stroke="#3e4448" stroke-width="0.8"/>
<rect x="948.9" y="717.1" width="407.4" height="196.7" fill="#ffffff"/>
<rect x="1122.2" y="923.5" width="62.8" height="51" fill="#363b3f"/>
<rect x="1185" y="923.5" width="3.6" height="51" fill="#6b7379"/>
<ellipse cx="1153.6" cy="944.1" rx="15.2" ry="15.6" fill="#6b7379"/>
<ellipse cx="1155.3" cy="944.3" rx="13.6" ry="15.5" fill="#ffffff"/>
<path d="M856.7,989.2 L895.3,973.6 L1214.6,973.6 L1212,988.4 L1168.4,990.5 L856.7,990.5 Z" fill="#363b3f"/>
<path d="M856.7,989.2 L856.7,995.3 L863.4,995.3 L863.4,998.2 L1168.4,998.2 L1175.3,990.5 L856.7,990.5Z" fill="#2f3438"/>
<line x1="857" y1="990.2" x2="1175" y2="990.2" stroke="#4b5257" stroke-width="0.8"/>
<path d="M1168.4,998.2 L1175.3,990.9 L1212,977 L1211.4,988.4 L1203.8,988.4 L1203.8,998.2 Z" fill="#6b7379" stroke="#3e4448" stroke-width="0.6"/>
<path d="M1203.8,998.2 L1203.8,988.4 L1211.4,988.4 L1211.4,990.3 L1274,990.3 Q1276.6,990.3 1276.6,993 L1276.6,995 Q1276.6,998.2 1274,998.2 Z" fill="#363b3f"/>
<path d="M1211.4,990.3 L1274,990.3 Q1276.6,990.3 1276.6,993 L1276.6,994.6 L1211.4,994.6Z" fill="#6b7379"/>
<g fill="none" stroke="#f80a1c" stroke-width="5.6" stroke-linejoin="miter" stroke-linecap="butt">
<path d="M1053.3,793 L1053.3,763.3 M1053.3,783.5 L1069.5,767.3 Q1072.3,764.5 1075.1,767.3 L1085.6,776"/>
<path d="M1106,763.3 L1106,790 L1123,790 Q1128.5,790 1132.5,786 L1137.7,780.8 L1137.7,763.3 M1137.7,779 L1147.8,790.6"/>
<path d="M1166.9,740.4 L1166.9,790 L1182.5,790 Q1186.5,790 1189.5,787 L1198.6,778.6 L1198.6,765.9 L1166.9,765.9"/>
<path d="M1221.5,763.3 L1221.5,790 L1237.6,790 Q1243,790 1247.5,786 L1253.7,780 M1253.7,763.3 L1253.7,797 L1239.5,812.8"/>
</g>
<path d="M1053,831.4 L1248,831.4 L1203,875 Q1195.5,882.9 1186,882.9 L1053,882.9 Z" fill="#fb0018"/>
<g fill="none" stroke="#ffffff" stroke-width="2.6" stroke-linecap="round">
<path d="M1093.8,848.5 A10.6,10.6 0 1 1 1084.6,843.2"/>
<path d="M1080.6,850.3 L1085.8,856.6 L1098.2,842.8"/>
<path d="M1077.5,862.2 L1067,872"/>
</g>
<text x="1109.2" y="865.3" font-family="Liberation Sans, sans-serif" font-weight="bold" font-size="21.4" fill="#ffffff" letter-spacing="1.75">CHECK</text>
</g>
<g clip-path="url(#c3)">
<path d="M1949.7,742.6 Q1985,712 2030,708.5 L2120,716 L2120,800 Q2040,790 1974.8,836 Z" fill="#fbfbfb"/>
<path d="M1949.7,742.6 Q1985,712 2030,708.5 L2120,716 L2120,800 Q2040,790 1974.8,836 Z" fill="url(#dots)"/>
<path d="M1949.7,742.6 Q1985,712 2030,708.5 Q2080,709 2120,722" fill="none" stroke="#9a9a9a" stroke-width="0.9"/>
<path d="M1974.8,850 Q2015,797 2070,786 L2120,786 L2120,1000 L1974.8,1000 Z" fill="#e2e2e2"/>
<path d="M1974.8,846 Q2012,796 2070,786 L2120,786" fill="none" stroke="#9a9a9a" stroke-width="0.9"/>
<path d="M1974.8,836 Q2010,792 2060,785.5 L2110,785.5" fill="none" stroke="#9a9a9a" stroke-width="0.8"/>
<path d="M1974.8,830 Q2005,790 2045,785.5 L2110,785.5" fill="none" stroke="#b0b0b0" stroke-width="0.8"/>
<path d="M2060,800 Q2030,830 2033,866" fill="none" stroke="#aaaaaa" stroke-width="0.8"/>
<path d="M2066,806 Q2040,832 2038,866" fill="none" stroke="#b5b5b5" stroke-width="0.8"/>
<path d="M1951.3,691 L2057,707.4 M1938,707.4 L2057,707.4" fill="none" stroke="#9a9a9a" stroke-width="0.9"/>
<path d="M1912,688 L1935,680 Q1950,678 1950,690 Q1950,697 1944,702 L1920,742.6 L1905,742.6 Z" fill="#eeeeee" stroke="#9a9a9a" stroke-width="0.9"/>
<circle cx="1940.3" cy="689.4" r="5.6" fill="#ffffff" stroke="#9a9a9a" stroke-width="0.9"/>
<circle cx="1939" cy="689.6" r="4.4" fill="none" stroke="#b5b5b5" stroke-width="0.7"/>
<path d="M1912,683 L1920,680 L1921,687 L1912,690Z" fill="#50575c"/>
<rect x="1902.7" y="742.6" width="72.1" height="380" fill="#e2e2e2" stroke="#9a9a9a" stroke-width="0.9"/>
<rect x="1974.8" y="843" width="150" height="280" fill="#e2e2e2"/>
<rect x="1974.8" y="843" width="13.3" height="280" fill="#d2d2d2"/>
<line x1="1974.8" y1="742.6" x2="1974.8" y2="1120" stroke="#9a9a9a" stroke-width="0.9"/>
<rect x="1330" y="808" width="136.6" height="320" fill="#e3e3e3"/>
<path d="M1454.8,865 L1454.8,1076.4 L1350,1076.4 M1385.6,1020.6 L1385.6,1076.4" fill="none" stroke="#a8a8a8" stroke-width="0.9"/>
<rect x="1330" y="1076.4" width="240" height="40" fill="#e6e6e6"/>
<line x1="1330" y1="1091.6" x2="1564.5" y2="1091.6" stroke="#b0b0b0" stroke-width="0.9"/>
<rect x="1345" y="1095" width="28.8" height="16" rx="3" fill="#a9afb4" stroke="#e8e8e8" stroke-width="1"/>
<rect x="1392.3" y="1095" width="52.4" height="16" rx="3" fill="#a9afb4" stroke="#f4f4f4" stroke-width="1"/>
<rect x="1466.6" y="808" width="52.4" height="277" fill="#f4f4f4"/>
<rect x="1524" y="808" width="23.7" height="277" fill="#e0e0e0"/>
<rect x="1547.7" y="808" width="16.8" height="277" fill="#dfdfdf"/>
<path d="M1528,848 L1564.5,880 L1564.5,868 L1541,848Z" fill="#d2d2d2"/>
<path d="M1528,975 L1564.5,1007 L1564.5,990 L1548,975Z" fill="#d2d2d2"/>
<line x1="1519" y1="843" x2="1519" y2="1084.8" stroke="#a8a8a8" stroke-width="0.9"/>
<line x1="1524" y1="843" x2="1524" y2="1084.8" stroke="#a8a8a8" stroke-width="0.9"/>
<line x1="1547.7" y1="843" x2="1547.7" y2="1084.8" stroke="#a8a8a8" stroke-width="0.9"/>
<line x1="1466.6" y1="843" x2="1466.6" y2="1112" stroke="#a8a8a8" stroke-width="0.9"/>
<rect x="1466.6" y="1084.8" width="98" height="6.8" fill="#ffffff" stroke="#c4c4c4" stroke-width="0.6"/>
<rect x="1529" y="956.5" width="35.5" height="16.9" fill="#f6f6f6" stroke="#b5b5b5" stroke-width="0.8"/>
<rect x="1564.5" y="844" width="231.6" height="280" fill="#f2f2f2"/>
<path d="M1566,844 L1587,867.6 L1796.1,867.6 L1796.1,844Z" fill="#cdcdcd"/>
<line x1="1564.8" y1="844" x2="1564.8" y2="1112" stroke="#8a8a8a" stroke-width="1.2"/>
<circle cx="1579.7" cy="880.7" r="4.6" fill="#dadada" stroke="#8a8a8a" stroke-width="1.1"/>
<circle cx="1578.9" cy="880.7" r="2.2" fill="none" stroke="#777" stroke-width="0.9"/>
<circle cx="1579.7" cy="1106.8" r="4.6" fill="#dadada" stroke="#8a8a8a" stroke-width="1.1"/>
<circle cx="1578.9" cy="1106.8" r="2.2" fill="none" stroke="#777" stroke-width="0.9"/>
<rect x="1796.1" y="844" width="7" height="280" fill="#d8d8d8"/>
<rect x="1803.1" y="844" width="125.9" height="280" fill="#cccccc"/>
<rect x="1803.1" y="844" width="5.3" height="280" fill="#bdbdbd"/>
<line x1="1796.3" y1="844" x2="1796.3" y2="1112" stroke="#808080" stroke-width="1.3"/>
<line x1="1803.1" y1="844" x2="1803.1" y2="1112" stroke="#808080" stroke-width="1.3"/>
<line x1="1929" y1="844" x2="1929" y2="1112" stroke="#888888" stroke-width="1.6"/>
<rect x="1929.9" y="844" width="44" height="280" fill="#e3e3e3"/>
<rect x="1330" y="742.6" width="262" height="66" fill="#f4f4f4"/>
<line x1="1330" y1="742.6" x2="1592" y2="742.6" stroke="#9a9a9a" stroke-width="0.9"/>
<path d="M1571,742.6 L1657,681 Q1661,678.7 1668,678.7 L1690,678.7 L1690,742.6 Z" fill="#f2f2f2" stroke="#9a9a9a" stroke-width="0.9"/>
<path d="M1580,742.6 L1663,683 L1690,683 L1690,742.6Z" fill="#e6e6e6" stroke="#aaaaaa" stroke-width="0.8"/>
<path d="M1600.5,727.5 L1680,727.5 L1680,736 L1602,736 Z" fill="#b8bfc4" stroke="#9aa1a6" stroke-width="0.8"/>
<path d="M1634.9,701 L1680,701 L1680,707.6 L1636,707.6 Z" fill="#b8bfc4" stroke="#9aa1a6" stroke-width="0.8"/>
<path d="M1518.6,801.5 L1592.1,744.4 L1617.4,744.4 L1616.8,801.5 Z" fill="#e0e0e0" stroke="#9a9a9a" stroke-width="0.9"/>
<circle cx="1603.5" cy="758.2" r="10.8" fill="#ffffff" stroke="#9a9a9a" stroke-width="0.9"/>
<ellipse cx="1609" cy="758.5" rx="9" ry="11" fill="#8e9398"/>
<path d="M1616,744 L1640,738 L1700,738 L1700,800 L1617,800 Q1613,770 1616,744Z" fill="#ffffff"/>
<path d="M1492.2,769.4 L1515,769.4 L1490.5,790.6 Z" fill="#a4aaaf"/>
<rect x="1728.2" y="794" width="29" height="7.4" fill="#f4f4f4" stroke="#9a9a9a" stroke-width="0.8"/>
<rect x="1757.9" y="794" width="77.4" height="7.4" fill="#eeeeee" stroke="#9a9a9a" stroke-width="0.8"/>
<rect x="1836" y="794" width="46.3" height="7.4" fill="#d0d0d0" stroke="#9a9a9a" stroke-width="0.8"/>
<path d="M1535,802.2 L1538.6,797.4 L1678.9,797.4 L1683,802.2 Z" fill="#50575c"/>
<path d="M1678.9,797.4 L1720,797.4 L1722,802.2 L1683,802.2Z" fill="#363b3f"/>
<rect x="1488.4" y="802.2" width="441.6" height="5.5" fill="#f2f2f2" stroke="#9a9a9a" stroke-width="0.9"/>
<rect x="1712" y="802.6" width="218" height="4.8" fill="#d2d2d2"/>
<line x1="1867" y1="802.2" x2="1867" y2="807.7" stroke="#9a9a9a" stroke-width="0.8"/>
<path d="M1505.9,807.7 L1930,807.7 L1930,843.8 L1528.2,843.8 L1505.9,819.1 Z" fill="#363b3f"/>
<path d="M1505.9,807.7 L1733.3,807.7 L1733.3,819.1 L1505.9,819.1 Z" fill="#6b7379"/>
<path d="M1733.3,808 L1742,819.1 L1749,843.8" fill="none" stroke="#2c3034" stroke-width="0.8"/>
<path d="M1700,609.5 L1919,609.5 Q1926,610 1925,617 L1893.5,787 Q1892,792.5 1886,792.5 L1662,792.5 Z" fill="#363b3f"/>
<path d="M1695.5,608.1 L1912,608.1 Q1918.5,608.1 1917.6,614.5 L1886.5,786 Q1885.6,792.5 1879,792.5 L1661.7,792.5 Q1655.2,792.5 1656.2,786 L1688.4,614.5 Q1689.3,608.1 1695.5,608.1 Z" fill="#6b7379"/>
<path d="M1700,621.1 L1904.7,621.1 L1876.5,779.5 L1671.1,779.5 Z" fill="#fb0018"/>
<path d="M1700,621.1 L1904.7,621.1 L1904.3,623.3 L1701.6,623.3 L1673.5,779.5 L1671.1,779.5 Z" fill="#363b3f"/>
<g transform="matrix(0.727,0,-0.1527,0.83,1068.3,55.7)" fill="none" stroke="#ffffff" stroke-width="5.4">
<path d="M1053.3,793 L1053.3,763.3 M1053.3,783.5 L1069.5,767.3 Q1072.3,764.5 1075.1,767.3 L1085.6,776"/>
<path d="M1106,763.3 L1106,790 L1123,790 Q1128.5,790 1132.5,786 L1137.7,780.8 L1137.7,763.3 M1137.7,779 L1147.8,790.6"/>
<path d="M1166.9,740.4 L1166.9,790 L1182.5,790 Q1186.5,790 1189.5,787 L1198.6,778.6 L1198.6,765.9 L1166.9,765.9"/>
<path d="M1221.5,763.3 L1221.5,790 L1237.6,790 Q1243,790 1247.5,786 L1253.7,780 M1253.7,763.3 L1253.7,797 L1239.5,812.8"/>
</g>
</g>
<g fill="none" stroke="#898989" stroke-width="3">
<path d="M323.14,609.65 A130.0,130.0 0 0 1 441.82,532.70 L939.60,532.70 L722.37,1018.68 A158.0,158.0 0 0 1 578.12,1112.20 L98.50,1112.20 Z"/>
<path d="M944.84,609.65 A130.0,130.0 0 0 1 1063.52,532.70 L1561.30,532.70 L1344.07,1018.68 A158.0,158.0 0 0 1 1199.82,1112.20 L720.20,1112.20 Z"/>
<path d="M1566.64,609.65 A130.0,130.0 0 0 1 1685.32,532.70 L2183.10,532.70 L1965.87,1018.68 A158.0,158.0 0 0 1 1821.62,1112.20 L1342.00,1112.20 Z"/>
</g>
</svg>
<div class="lbl" style="left:92px;top:1176px;transform:scaleX(0.9856)">VISION-CHECK</div>
<div class="lbl" style="left:710.7px;top:1176px;transform:scaleX(0.977)">RUBY Check</div>
<div class="lbl" style="left:1333px;top:1176px;transform:scaleX(0.977)">RUBY Check</div>
<div class="lbl" style="left:1760.8px;top:1176.9px;font-size:61px">@</div>
<div class="lbl" style="left:1816.4px;top:1176px;transform:scaleX(0.977)">Slitter</div>
</body></html>
